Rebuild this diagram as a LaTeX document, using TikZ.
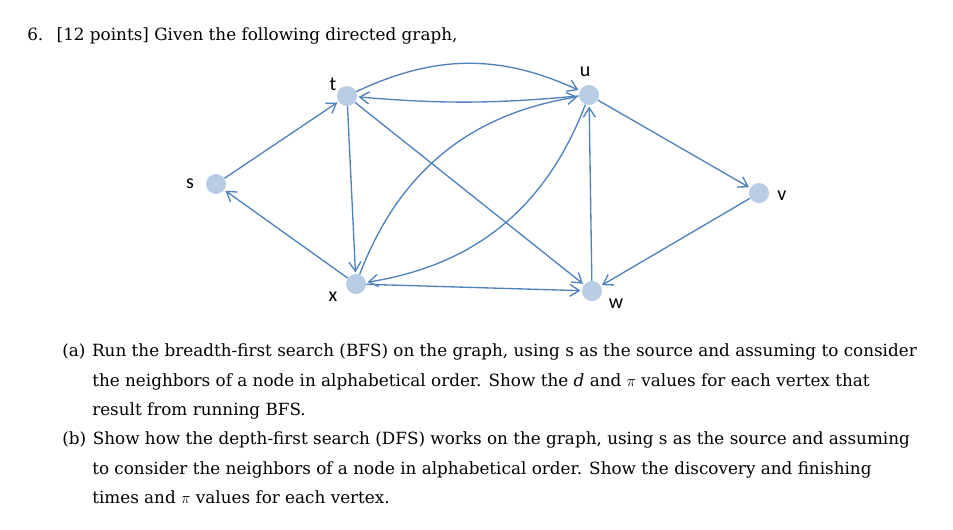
\documentclass[tikz,border=0pt]{standalone}
\usepackage{fontspec}
\setmainfont{DejaVu Serif}
\newfontfamily\lblfont{Carlito}
\usetikzlibrary{arrows.meta}
\begin{document}
\begin{tikzpicture}[x=0.75pt,y=-0.75pt,
  vtx/.style={circle,fill={rgb,255:red,184;green,204;blue,228},minimum size=15pt,inner sep=0pt},
  lbl/.style={font=\lblfont\fontsize{15}{15}\selectfont},
  edge/.style={draw={rgb,255:red,79;green,129;blue,189},line width=1pt,->,>={Straight Barb[length=7pt,width=9pt]},shorten >=1pt},
  txt/.style={anchor=base west,inner sep=0pt,font=\fontsize{12.6}{16}\selectfont}]
\useasboundingbox (0,0) rectangle (953,529);
\node[vtx] (s) at (216,184) {};
\node[vtx] (t) at (347,96) {};
\node[vtx] (u) at (589,95) {};
\node[vtx] (v) at (759,193) {};
\node[vtx] (x) at (356,284) {};
\node[vtx] (w) at (592,291) {};
\node[lbl] (ls) at (190,184) {s};
\node[lbl] (lt) at (333,84) {t};
\node[lbl] (lu) at (585,72) {u};
\node[lbl] (lv) at (782,196) {v};
\node[lbl] (lx) at (333,297) {x};
\node[lbl] (lw) at (616,304) {w};
\draw[edge] (s) -- (t);
\draw[edge] (x) -- (s);
\draw[edge] (t) to[bend left=25] (u);
\draw[edge] (u) to[bend left=5] (t);
\draw[edge] (t) -- (x);
\draw[edge] (t) -- (w);
\draw[edge] (u) -- (v);
\draw[edge] (v) -- (w);
\draw[edge] (x) -- (w);
\draw[edge] (w) -- (u);
\draw[edge] (x) to[bend left=30] (u);
\draw[edge] (u) to[bend left=30] (x);
\node[txt] (h) at (27,40) {6.\hspace{0.8em}[12 points] Given the following directed graph,};
\node[txt] (a1) at (62,356) {(a)\hspace{0.4em}Run the breadth-first search (BFS) on the graph, using s as the source and assuming to consider};
\node[txt] (a2) at (92,386) {the neighbors of a node in alphabetical order. Show the \textit{d} and $\pi$ values for each vertex that};
\node[txt] (a3) at (92,415) {result from running BFS.};
\node[txt] (b1) at (62,444) {(b)\hspace{0.4em}Show how the depth-first search (DFS) works on the graph, using s as the source and assuming};
\node[txt] (b2) at (92,474) {to consider the neighbors of a node in alphabetical order. Show the discovery and finishing};
\node[txt] (b3) at (92,503) {times and $\pi$ values for each vertex.};
\end{tikzpicture}
\end{document}
